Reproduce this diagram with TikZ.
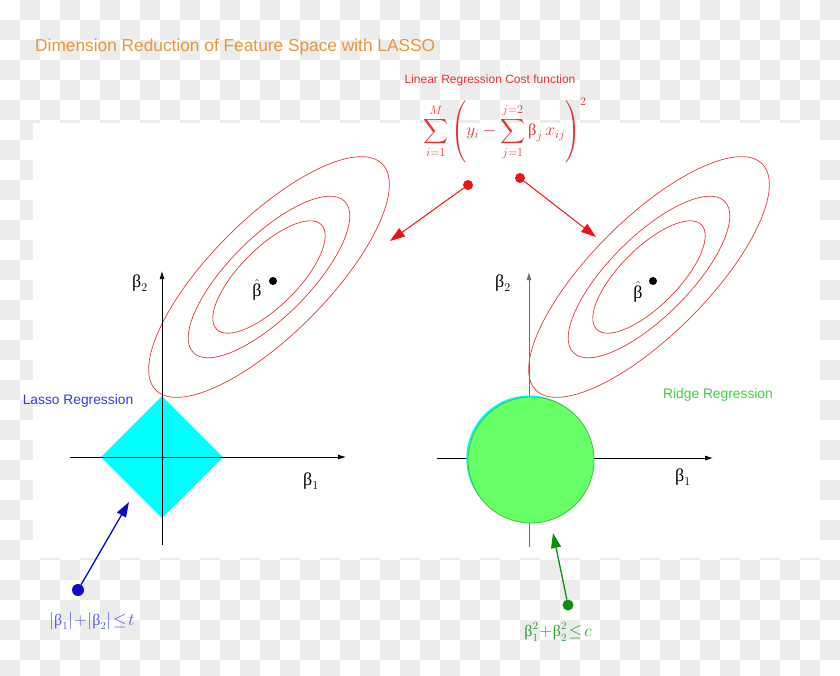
\documentclass[tikz,border=0pt]{standalone}
\usepackage{amsmath}
\usepackage{fontspec}
\setmainfont{Liberation Serif}
\setsansfont{Liberation Sans}
\usetikzlibrary{arrows.meta}
\definecolor{checkgrey}{RGB}{236,236,236}
\definecolor{titleorange}{RGB}{232,150,60}
\definecolor{costred}{RGB}{228,52,56}
\definecolor{contourred}{RGB}{222,60,60}
\definecolor{arrowred}{RGB}{238,20,20}
\definecolor{lassofill}{RGB}{0,255,255}
\definecolor{lassoblue}{RGB}{58,58,222}
\definecolor{lassoarrow}{RGB}{10,10,200}
\definecolor{lassotext}{RGB}{90,90,235}
\definecolor{ridgegreen}{RGB}{70,205,70}
\definecolor{ridgefill}{RGB}{102,255,102}
\definecolor{ridgeedge}{RGB}{70,190,70}
\definecolor{ridgearrow}{RGB}{18,140,18}
\definecolor{ridgetext}{RGB}{50,155,50}
\definecolor{axisgrey}{RGB}{110,110,110}
\newcommand{\bt}{\text{β}}

\begin{document}
\begin{tikzpicture}[x=1pt,y=-1pt,
	axis/.style={line width=0.8pt,-{Latex[length=8pt,width=5pt]}},
	contour/.style={draw=contourred,line width=0.7pt},
	dot/.style={circle,inner sep=0pt,minimum size=#1},
	pointer/.style={line width=1.3pt,-{Triangle[length=15pt,width=10pt]}},
	greek/.style={font=\fontsize{18}{20}\selectfont},
	caption/.style={font=\sffamily\fontsize{13.8}{16}\selectfont}]
	\useasboundingbox (0,0) rectangle (840,675);
	\foreach \c in {0,...,41}
		\foreach \r in {0,...,33} {
			\pgfmathtruncatemacro\s{\c+\r}
			\ifodd\s \fill[checkgrey] (\c*20,\r*20) rectangle ++(20,20); \fi
		}
	\fill[white] (33,123) rectangle (820,558);
	
	\node[anchor=west,inner sep=0pt,text=titleorange,font=\sffamily\fontsize{17.3}{20}\selectfont] (title) at (35,47) {Dimension Reduction of Feature Space with LASSO};
	\node[text=costred,font=\sffamily\fontsize{12}{14}\selectfont] (costlabel) at (490,80) {Linear Regression Cost function};
	\node[text=costred,font=\fontsize{16.5}{18}\selectfont] (cost) at (505,130) {$\displaystyle\sum_{i=1}^{M}\left(y_i-\sum_{j=1}^{j=2}\bt_j\,x_{ij}\right)^{2}$};
	
	\foreach \cx in {269,649} {
		\begin{scope}[shift={(\cx,277)},rotate=45]
			\draw[contour] (0,0) ellipse [x radius=160,y radius=58];
			\draw[contour] (0,0) ellipse [x radius=107,y radius=40];
			\draw[contour] (0,0) ellipse [x radius=74,y radius=29];
		\end{scope}
	}
	
	\fill[lassofill] (162,396) -- (223,457) -- (162,518) -- (101,457) -- cycle;
	\draw[axis] (70,457) -- (346,457);
	\draw[axis] (162,545) -- (162,271);
	\draw[axis] (437,458) -- (713,458);
	\draw[axis,draw=axisgrey] (529,547) -- (529,272);
	\fill[lassofill] (529.3,458.5) circle [radius=63];
	\filldraw[fill=ridgefill,draw=ridgeedge,line width=0.8pt] (531,460) circle [radius=63];
	
	\node[greek] (bTwoL) at (140,283) {$\bt_2$};
	\node[greek] (bOneL) at (311,481) {$\bt_1$};
	\node[greek] (bTwoR) at (503,283) {$\bt_2$};
	\node[greek] (bOneR) at (683,477) {$\bt_1$};
	\node[dot=8pt,fill=black] (hatL) at (273,281) {};
	\node[dot=8pt,fill=black] (hatR) at (653,281) {};
	\node[greek] (hatlabelL) at (257,290) {$\hat{\bt}$};
	\node[greek] (hatlabelR) at (638,292) {$\hat{\bt}$};
	
	\node[caption,text=lassoblue] (lasso) at (78,401) {Lasso Regression};
	\node[caption,text=ridgegreen] (ridge) at (718,395) {Ridge Regression};
	
	\node[dot=10pt,fill=arrowred] (costdotL) at (468,185) {};
	\node[dot=10pt,fill=arrowred] (costdotR) at (520,178) {};
	\coordinate (costtipL) at (390,241);
	\coordinate (costtipR) at (596,237);
	\draw[pointer,arrowred,line width=1pt] (costdotL) -- (costtipL);
	\draw[pointer,arrowred,line width=1pt] (costdotR) -- (costtipR);
	
	\node[dot=12pt,fill=lassoarrow] (lassodot) at (78,590) {};
	\coordinate (lassotip) at (129,502);
	\draw[pointer,lassoarrow] (lassodot) -- (lassotip);
	\node[text=lassotext,font=\fontsize{16}{18}\selectfont] (lassoeq) at (92,621) {$|\bt_1|\!+\!|\bt_2|\!\le\! t$};
	
	\node[dot=11pt,fill=ridgearrow] (ridgedot) at (568,605) {};
	\coordinate (ridgetip) at (553,533);
	\draw[pointer,ridgearrow] (ridgedot) -- (ridgetip);
	\node[text=ridgetext,font=\fontsize{16}{18}\selectfont] (ridgeeq) at (558,632) {$\bt_1^2\!+\!\bt_2^2\!\le\! c$};
\end{tikzpicture}
\end{document}
